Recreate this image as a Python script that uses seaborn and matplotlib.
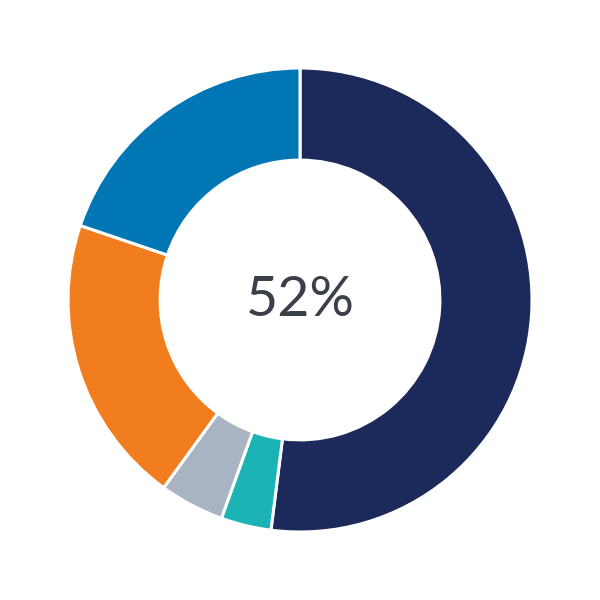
import matplotlib
matplotlib.use("Agg")
import matplotlib.pyplot as plt
import seaborn as sns

categories = ["Navy", "Teal", "Gray", "Orange", "Blue"]
values = [52.0, 3.5, 4.5, 20.2, 19.8]
colors = ["#1b2a5a", "#1bb3b5", "#a9b4c2", "#f27d1f", "#0076b4"]
center_label = "52%"

sns.set_theme(style="white")
plt.rcParams['font.family'] = ['Lato', 'DejaVu Sans']

fig = plt.figure(figsize=(6, 6), dpi=100)
ax = fig.add_axes([0, 0, 1, 1])
palette = sns.color_palette(colors)
ax.pie(values, colors=palette, startangle=90, counterclock=False,
       radius=1.0, wedgeprops=dict(width=0.397, edgecolor="white", linewidth=2.2))
ax.text(0, 0, center_label, ha="center", va="center", fontsize=40,
        color="#3a3f4a", fontweight="normal")
lim = 300 / 232
ax.set_xlim(-lim, lim)
ax.set_ylim(-lim, lim)
ax.set_aspect("equal")
ax.axis("off")
fig.savefig("out.png", dpi=100, facecolor="white")
